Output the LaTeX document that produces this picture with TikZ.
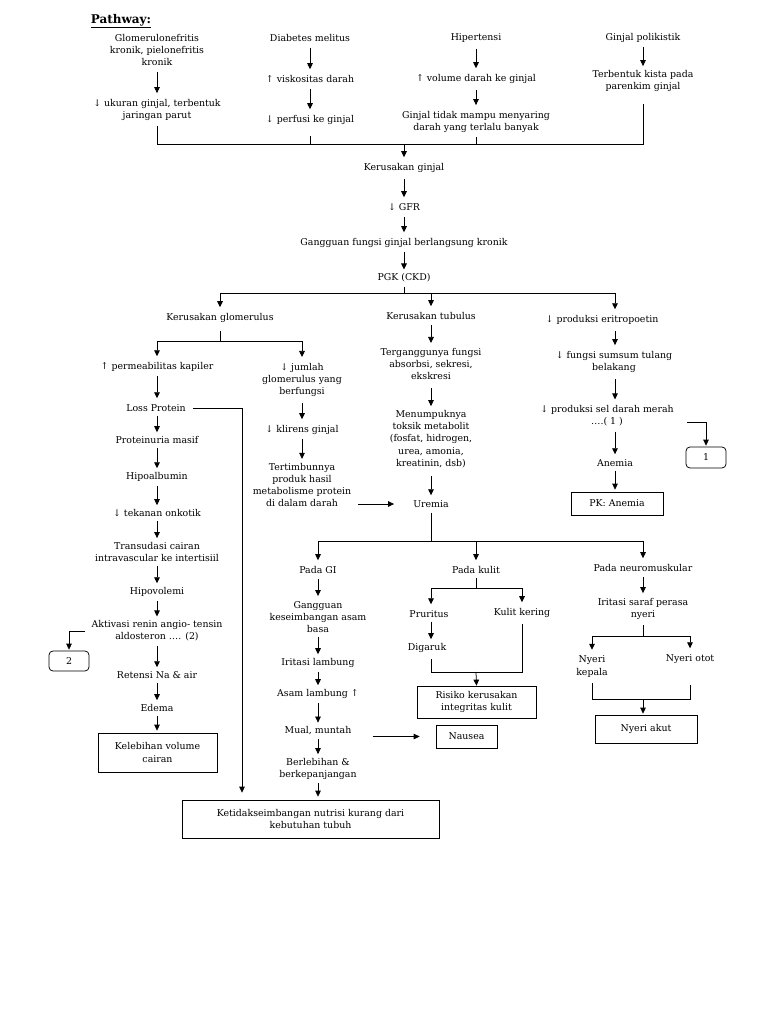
\documentclass[tikz,border=0pt]{standalone}
\usepackage{fontspec}
\setmainfont{DejaVu Serif}
\usetikzlibrary{arrows.meta,calc}
\begin{document}
\begin{tikzpicture}[x=1pt,y=-1pt,
  t/.style={font=\fontsize{9.4}{12.2}\selectfont,align=center,inner sep=1pt},
  ln/.style={line width=0.75pt},
  arr/.style={ln,-{Triangle[length=6pt,width=5.6pt]},shorten <=5pt,shorten >=5pt},
  arrj/.style={arr,shorten <=0pt},
  bx/.style={t,draw,line width=0.75pt,inner sep=2pt},
  rbx/.style={t,draw,line width=0.75pt,rounded corners=4pt,inner sep=2pt}]
\fill[white] (0,0) rectangle (768,1024);
\useasboundingbox (0,0) rectangle (768,1024);

% title
\node[font=\fontsize{12}{14}\bfseries\selectfont,inner sep=0pt] (title) at (121,21) {\underline{Pathway:}};

% top row
\node[t] (g1) at (157,50) {Glomerulonefritis\\kronik, pielonefritis\\kronik};
\node[t] (g2) at (157,110) {↓ ukuran ginjal, terbentuk\\jaringan parut};
\node[t] (d1) at (310,38) {Diabetes melitus};
\node[t] (d2) at (310,79) {↑ viskositas darah};
\node[t] (d3) at (310,120) {↓ perfusi ke ginjal};
\node[t] (h1) at (476,38) {Hipertensi};
\node[t] (h2) at (476,79) {↑ volume darah ke ginjal};
\node[t] (h3) at (476,122) {Ginjal tidak mampu menyaring\\darah yang terlalu banyak};
\node[t] (p1) at (643,38) {Ginjal polikistik};
\node[t] (p2) at (643,81) {Terbentuk kista pada\\parenkim ginjal};

\draw[arr] (g1) -- (g2);
\draw[arr] (d1) -- (d2);
\draw[arr] (d2) -- (d3);
\draw[arr] (h1) -- (h2);
\draw[arr] (h2) -- (h3);
\draw[arr,shorten <=3pt,shorten >=3pt] (p1) -- (p2);

\coordinate (j) at (404,144);
\draw[ln] ([yshift=-4pt]g2.south) |- (p2.south |- j) -- ([yshift=-11pt]p2.south);
\draw[ln] (d3.south |- j) -- ++(0,-8);
\draw[ln] (h3.south |- j) -- ++(0,-7);

% main spine
\node[t] (k1) at (404,168) {Kerusakan ginjal};
\node[t] (k2) at (404,207) {↓ GFR};
\node[t] (k3) at (404,243) {Gangguan fungsi ginjal berlangsung kronik};
\node[t] (k4) at (404,278) {PGK (CKD)};
\draw[arrj] (j) -- (k1);
\draw[arr] (k1) -- (k2);
\draw[arr] (k2) -- (k3);
\draw[arr,shorten <=3pt,shorten >=3pt] (k3) -- (k4);

\coordinate (jP) at (404,293);
\coordinate (cR) at (615,0);
\node[t] (kg) at (220,318) {Kerusakan glomerulus};
\node[t] (kt) at (431,316) {Kerusakan tubulus};
\node[t] (ke) at (602,320) {↓ produksi eritropoetin};
\draw[ln] ([yshift=-3pt]k4.south) -- (jP);
\draw[ln] (jP -| kg) -- (jP -| cR);
\draw[arrj] (jP -| kg) -- (kg);
\draw[arrj] (jP -| kt) -- (kt);
\draw[arrj] (jP -| cR) -- (ke.north -| cR);

% glomerulus branch
\coordinate (jG) at (220,341);
\node[t] (pk) at (157,367) {↑ permeabilitas kapiler};
\node[t] (jm) at (302,380) {↓ jumlah\\glomerulus yang\\berfungsi};
\draw[ln] ([yshift=-7pt]kg.south) -- (jG);
\draw[ln] (jG -| pk) -- (jG -| jm);
\draw[arrj] (jG -| pk) -- (pk);
\draw[arrj] (jG -| jm) -- (jm);

\node[t] (lp) at (156,408) {Loss Protein};
\node[t] (pm) at (157,440) {Proteinuria masif};
\node[t] (ha) at (157,477) {Hipoalbumin};
\node[t] (tk) at (157,513) {↓ tekanan onkotik};
\node[t] (tc) at (157,552) {Transudasi cairan\\intravascular ke intertisiil};
\node[t] (hv) at (157,592) {Hipovolemi};
\node[t] (ak) at (157,631) {Aktivasi renin angio- tensin\\aldosteron …. (2)};
\node[t] (rn) at (157,675) {Retensi Na \& air};
\node[t] (ed) at (157,708) {Edema};
\node[bx,minimum width=119pt,minimum height=39pt] (kv) at (157.5,752.5) {Kelebihan volume\\cairan};
\node[rbx,minimum width=40pt,minimum height=20pt] (b2) at (69,661) {2};

\draw[arr,shorten <=3pt] (pk) -- (pk |- lp.north);
\draw[arr,shorten <=3pt,shorten >=3pt] (lp.south -| pm) -- (pm);
\draw[arr,shorten <=3pt,shorten >=3pt] (pm) -- (ha);
\draw[arr,shorten <=3pt,shorten >=3pt] (ha) -- (tk);
\draw[arr,shorten <=3pt,shorten >=3pt] (tk) -- (tc);
\draw[arr,shorten <=3pt,shorten >=3pt] (tc) -- (hv);
\draw[arr,shorten <=3pt,shorten >=3pt] (hv) -- (ak);
\draw[arr,shorten <=3pt,shorten >=3pt] (ak) -- (rn);
\draw[arr,shorten <=3pt,shorten >=3pt] (rn) -- (ed);
\draw[arr,shorten <=3pt,shorten >=2pt] (ed) -- (ed |- kv.north);
\draw[arr,shorten <=0pt,shorten >=1pt] ([xshift=-5pt]ak.west) -| (b2.north);

\node[t] (kl) at (302,430) {↓ klirens ginjal};
\node[t] (tp) at (302,485) {Tertimbunnya\\produk hasil\\metabolisme protein\\di dalam darah};
\draw[arr] (jm) -- (kl);
\draw[arr,shorten <=3pt,shorten >=3pt] (kl) -- (tp);

% tubulus branch
\node[t] (tf) at (431,364) {Terganggunya fungsi\\absorbsi, sekresi,\\ekskresi};
\node[t] (mt) at (431,439) {Menumpuknya\\toksik metabolit\\(fosfat, hidrogen,\\urea, amonia,\\kreatinin, dsb)};
\node[t] (ur) at (431,504) {Uremia};
\draw[arr,shorten <=4pt,shorten >=4pt] (kt) -- (tf);
\draw[arr,shorten <=7pt,shorten >=3pt] (tf) -- (mt);
\draw[arr,shorten <=7pt,shorten >=4pt] (mt) -- (ur);
\draw[arr,shorten <=0pt,shorten >=0pt] ([xshift=6pt]tp.east |- ur) -- ([xshift=-18pt]ur.west);

% eritropoetin branch
\node[t] (fs) at (614,362) {↓ fungsi sumsum tulang\\belakang};
\node[t] (ps) at (607,416) {↓ produksi sel darah merah\\….( 1 )};
\node[t] (an) at (615,463) {Anemia};
\node[bx,minimum width=92pt,minimum height=23pt] (pka) at (617,503.5) {PK: Anemia};
\node[rbx,minimum width=40pt,minimum height=21pt] (b1) at (706,457.5) {1};
\draw[arr] (ke.south -| cR) -- (fs.north -| cR);
\draw[arr] (fs.south -| cR) -- (ps.north -| cR);
\draw[arr,shorten <=4pt,shorten >=4pt] (ps.south -| cR) -- (an.north -| cR);
\draw[arr,shorten <=3pt,shorten >=2pt] (an) -- (an |- pka.north);
\draw[arr,shorten <=0pt,shorten >=1pt] ([shift={(12pt,-6pt)}]ps.east) -| (b1.north);

% uremia branches
\coordinate (jU) at (431,541);
\node[t] (pg) at (318,570) {Pada GI};
\node[t] (pku) at (476,570) {Pada kulit};
\node[t] (pn) at (643,568) {Pada neuromuskular};
\draw[ln] ([yshift=-4pt]ur.south) -- (jU);
\draw[ln] (jU -| pg) -- (jU -| pn);
\draw[arrj] (jU -| pg) -- (pg);
\draw[arrj] (jU -| pku) -- (pku);
\draw[arrj] (jU -| pn) -- (pn);

% GI
\node[t] (gk) at (318,617) {Gangguan\\keseimbangan asam\\basa};
\node[t] (il) at (318,663) {Iritasi lambung};
\node[t] (al) at (318,694) {Asam lambung ↑};
\node[t] (mm) at (318,731) {Mual, muntah};
\node[t] (bb) at (318,769) {Berlebihan \&\\berkepanjangan};
\node[bx,minimum width=257pt,minimum height=38pt] (kn) at (310.5,819) {Ketidakseimbangan nutrisi kurang dari\\kebutuhan tubuh};
\node[bx,minimum width=61pt,minimum height=23pt] (na) at (466.5,736.5) {Nausea};
\draw[arr,shorten <=4pt,shorten >=4pt] (pg) -- (gk);
\draw[arr,shorten <=3pt,shorten >=3pt] (gk) -- (il);
\draw[arr,shorten <=3pt,shorten >=3pt] (il) -- (al);
\draw[arr,shorten <=3pt,shorten >=3pt] (al) -- (mm);
\draw[arr,shorten <=3pt,shorten >=3pt] (mm) -- (bb);
\draw[arr,shorten <=2pt,shorten >=3pt] (bb) -- (bb |- kn.north);
\draw[arr,shorten <=20pt,shorten >=16pt] (mm.east |- na) -- (na.west);
\coordinate (cL) at (242,0);
\draw[arr,shorten <=6pt,shorten >=7pt] (lp.east) -| (kn.north -| cL);

% kulit
\coordinate (jK) at (476,588);
\coordinate (cK1) at (431,0);
\coordinate (cK2) at (522,0);
\node[t] (pr) at (429,614) {Pruritus};
\node[t] (kk) at (522,613) {Kulit kering};
\node[t] (dg) at (427,648) {Digaruk};
\node[bx,minimum width=119pt,minimum height=32pt] (rk) at (476.5,702) {Risiko kerusakan\\integritas kulit};
\draw[ln] ([yshift=-3pt]pku.south) -- (jK);
\draw[ln] (jK -| cK1) -- (jK -| cK2);
\draw[arrj] (jK -| cK1) -- (pr.north -| cK1);
\draw[arrj] (jK -| cK2) -- (kk.north -| cK2);
\draw[arr,shorten <=3pt,shorten >=3pt] (pr.south -| cK1) -- (dg.north -| cK1);
\coordinate (jKb) at (476,672);
\draw[ln] ([yshift=-5pt]dg.south -| cK1) |- (jKb -| cK2) -- ([yshift=-5pt]kk.south -| cK2);
\draw[arrj,shorten >=0pt] (jKb) -- (rk.north);

% neuro
\coordinate (jN) at (643,636);
\node[t] (is) at (643,609) {Iritasi saraf perasa\\nyeri};
\node[t] (nk) at (592,666.5) {Nyeri\\kepala};
\node[t] (no) at (690,659) {Nyeri otot};
\node[bx,minimum width=102pt,minimum height=28pt] (nak) at (646,729) {Nyeri akut};
\draw[arr,shorten <=4pt,shorten >=4pt] (pn) -- (is);
\draw[ln] ([yshift=-4pt]is.south) -- (jN);
\draw[ln] (jN -| nk) -- (jN -| no);
\draw[arrj] (jN -| nk) -- (nk);
\draw[arrj] (jN -| no) -- (no);
\coordinate (jNb) at (643,699);
\draw[ln] ([yshift=-5pt]nk.south) |- (jNb -| no) -- ++(0,-14);
\draw[arrj,shorten >=1pt] (jNb) -- (jNb |- nak.north);
\end{tikzpicture}
\end{document}
